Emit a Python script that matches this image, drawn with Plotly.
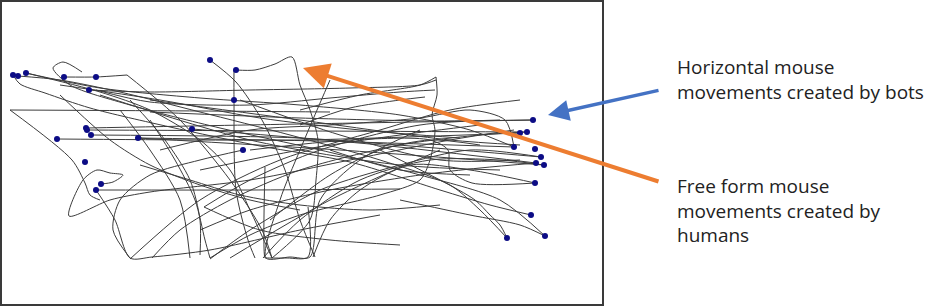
import plotly.graph_objects as go

# ---- data: mouse movement traces (screen pixel coordinates) ----
bot_x = [
    [86, 300, 533], [87, 310, 527], [91, 300, 541], [57, 300, 520],
    [138, 340, 544], [192, 380, 536], [96, 250, 400], [10, 200, 330],
    [64, 96, 127], [150, 300, 430, 533], [138, 320, 514],
]
bot_y = [
    [128, 124, 120], [130, 131, 132], [135, 138, 157], [139, 140, 133],
    [138, 150, 165], [129, 145, 163], [190, 190, 189], [110, 111, 112],
    [77, 77, 75], [112, 118, 121, 120], [138, 141, 147],
]

human_x = [
    [13, 20, 45, 90, 170, 260, 350, 440, 490, 531],
    [18, 60, 120, 200, 290, 380, 450, 480, 507],
    [26, 100, 200, 300, 400, 470, 514],
    [82, 63, 53, 70, 130, 220, 320, 420, 500, 545],
    [89, 150, 250, 350, 420, 436],
    [10, 72, 85, 90, 100],
    [101, 113, 123, 110, 97, 83, 69, 110, 150, 250, 350, 450, 514],
    [96, 115, 130, 152, 210, 300, 380],
    [243, 200, 150, 120, 113, 130],
    [150, 175, 195, 205, 210],
    [130, 165, 190, 200, 200],
    [120, 150, 180, 190],
    [210, 236, 262, 285, 300, 315],
    [236, 255, 275, 292, 300, 310, 318, 316, 310, 272],
    [234, 234, 236, 248, 255],
    [436, 437, 432, 435, 430, 420, 380, 300, 250, 210],
    [435, 400, 330, 250, 150, 96],
    [130, 200, 280, 380, 450, 520],
    [152, 180, 230, 300, 400, 480, 527],
    [210, 250, 320, 400, 470, 541],
    [263, 300, 360, 430, 500, 544],
    [272, 250, 230, 200, 150, 100, 26],
    [313, 330, 360, 410, 470, 535],
    [536, 480, 420, 330, 250, 200],
    [535, 472, 450, 448, 430, 350, 250],
    [265, 265, 266, 287, 308, 308],
    [330, 300, 280, 266, 290, 310, 320, 360, 420],
    [127, 180, 230, 262, 272],
    [380, 440, 475, 490, 500, 507],
    [400, 470, 520, 545],
    [300, 360, 420, 436],
    [300, 350, 400, 425],
    [514, 505, 470, 420, 330, 250, 160],
    [204, 250, 320, 420, 500],
    [204, 260, 330, 400],
    [60, 110, 150, 200, 250, 300],
    [140, 190, 240, 300, 370, 440],
    [270, 330, 380, 430, 480],
    [150, 300, 450, 520],
    [100, 250, 400, 500],
    [200, 300, 400, 480],
    [240, 340, 440, 520],
    [230, 330, 440],
    [330, 400, 470],
    [60, 160, 260, 360, 460],
]
human_y = [
    [75, 84, 93, 108, 127, 146, 162, 190, 205, 215],
    [76, 80, 92, 112, 135, 160, 185, 210, 238],
    [73, 88, 98, 105, 115, 130, 147],
    [72, 62, 68, 85, 105, 128, 150, 175, 200, 236],
    [90, 92, 90, 88, 85, 80],
    [110, 160, 183, 195, 200],
    [184, 182, 175, 173, 170, 180, 216, 200, 192, 180, 160, 140, 130],
    [190, 220, 258, 257, 250, 230, 215],
    [150, 160, 175, 200, 230, 258],
    [120, 160, 200, 240, 258],
    [100, 140, 180, 220, 255],
    [110, 150, 200, 258],
    [60, 82, 120, 170, 220, 257],
    [70, 70, 64, 57, 85, 110, 140, 180, 220, 258],
    [70, 100, 190, 240, 258],
    [77, 95, 115, 130, 160, 180, 195, 215, 235, 258],
    [90, 92, 98, 105, 102, 90],
    [259, 200, 160, 130, 110, 100],
    [258, 230, 200, 170, 145, 135, 132],
    [259, 230, 190, 165, 150, 157],
    [258, 220, 180, 160, 160, 165],
    [258, 210, 170, 140, 110, 92, 73],
    [257, 220, 190, 165, 170, 183],
    [163, 168, 175, 190, 210, 230],
    [183, 183, 170, 150, 140, 140, 150],
    [167, 258, 258, 258, 257, 207],
    [80, 150, 200, 258, 257, 257, 200, 160, 130],
    [75, 120, 180, 230, 258],
    [150, 180, 200, 215, 225, 238],
    [200, 215, 225, 236],
    [110, 95, 85, 77],
    [125, 108, 100, 97],
    [147, 120, 110, 118, 125, 130, 150],
    [207, 180, 150, 125, 120],
    [207, 230, 240, 245],
    [95, 140, 165, 185, 200, 210],
    [165, 180, 195, 205, 210, 205],
    [220, 175, 150, 140, 145],
    [100, 120, 140, 145],
    [95, 140, 165, 170],
    [170, 150, 135, 125],
    [100, 135, 160, 160],
    [258, 200, 150],
    [150, 170, 175],
    [85, 100, 118, 130, 138],
]

dot_x = [13, 18, 26, 64, 96, 89, 210, 236, 234, 86, 87, 91, 57, 138, 192, 243,
         85, 101, 96, 533, 520, 527, 514, 535, 541, 536, 544, 535, 531, 507, 545]
dot_y = [75, 76, 73, 77, 77, 90, 60, 70, 100, 128, 130, 135, 139, 138, 129, 150,
         162, 184, 190, 120, 133, 132, 147, 149, 157, 163, 165, 183, 215, 238, 236]

label_bots = "Horizontal mouse<br>movements created by bots"
label_humans = "Free form mouse<br>movements created by<br>humans"

LINE = "#3c3c3c"
fig = go.Figure()
for xs, ys in zip(human_x, human_y):
    fig.add_trace(go.Scatter(x=xs, y=ys, mode="lines",
                             line=dict(color=LINE, width=1, shape="spline", smoothing=0.8),
                             hoverinfo="skip", showlegend=False))
for xs, ys in zip(bot_x, bot_y):
    fig.add_trace(go.Scatter(x=xs, y=ys, mode="lines",
                             line=dict(color=LINE, width=1, shape="spline", smoothing=0.6),
                             hoverinfo="skip", showlegend=False))
fig.add_trace(go.Scatter(x=dot_x, y=dot_y, mode="markers",
                         marker=dict(color="#0c0c85", size=6),
                         hoverinfo="skip", showlegend=False))

fig.add_shape(type="rect", xref="x", yref="y", x0=1, y0=1, x1=603, y1=305,
              line=dict(color="#3a3a3a", width=2))

fig.add_annotation(x=548, y=115, ax=660, ay=90, xref="x", yref="y", axref="x", ayref="y",
                   text="", showarrow=True, arrowhead=2, arrowsize=1.2, arrowwidth=3.5,
                   arrowcolor="#4472C4")
fig.add_annotation(x=303, y=68, ax=660, ay=182, xref="x", yref="y", axref="x", ayref="y",
                   text="", showarrow=True, arrowhead=2, arrowsize=1.3, arrowwidth=4,
                   arrowcolor="#ED7D31")
fig.add_annotation(x=675, y=52, xref="x", yref="y", xanchor="left", yanchor="top",
                   text=label_bots, showarrow=False, align="left",
                   font=dict(family="Open Sans", size=19, color="#222222"))
fig.add_annotation(x=675, y=171, xref="x", yref="y", xanchor="left", yanchor="top",
                   text=label_humans, showarrow=False, align="left",
                   font=dict(family="Open Sans", size=19, color="#222222"))

fig.update_layout(width=952, height=307, margin=dict(l=0, r=0, t=0, b=0),
                  paper_bgcolor="white", plot_bgcolor="white",
                  xaxis=dict(range=[0, 952], visible=False, fixedrange=True),
                  yaxis=dict(range=[307, 0], visible=False, fixedrange=True))
fig.write_html("out.html")
